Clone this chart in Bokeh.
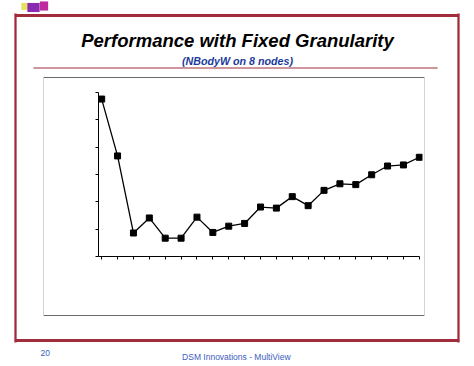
from bokeh.plotting import figure
from bokeh.models import Range1d, Label, FixedTicker
from bokeh.embed import file_html
from bokeh.resources import INLINE

# data (21 granularity steps, relative time)
steps = list(range(21))
perf = [5.76, 3.68, 0.86, 1.41, 0.67, 0.67, 1.44, 0.88, 1.11, 1.21, 1.81,
        1.77, 2.19, 1.86, 2.42, 2.66, 2.63, 2.99, 3.31, 3.35, 3.63]
y_ticks = [0, 1, 2, 3, 4, 5, 6]

title_text = "Performance with Fixed Granularity"
subtitle_text = "(NBodyW on 8 nodes)"
footer_text = "DSM Innovations  - MultiView"
page_text = "20"

p = figure(width=474, height=366, output_backend="svg", toolbar_location=None,
           x_range=Range1d(-0.2, 20.2), y_range=Range1d(0, 6),
           min_border_left=98, min_border_right=52,
           min_border_top=92, min_border_bottom=110)
p.outline_line_color = None
p.background_fill_color = "white"
p.border_fill_color = "white"
p.xgrid.visible = False
p.ygrid.visible = False

for ax in (p.xaxis, p.yaxis):
    ax.axis_line_color = "black"
    ax.axis_line_width = 1
    ax.major_tick_line_color = "black"
    ax.major_tick_out = 3
    ax.major_tick_in = 0
    ax.minor_tick_line_color = None
    ax.major_label_text_font_size = "0px"
    ax.major_label_standoff = 0
p.xaxis.ticker = FixedTicker(ticks=steps)
p.xaxis.bounds = (-0.2, 20)
p.yaxis.ticker = FixedTicker(ticks=y_ticks)

p.line(steps, perf, line_color="black", line_width=1.3)
p.scatter(steps, perf, marker="square", size=6, fill_color="black", line_color="black")


def bar(x0, x1, y0, y1, fill):
    # an empty, tiny label whose padded background forms a filled strip (canvas px)
    px = max(int(round((x1 - x0) / 2)), 0)
    py = max(int(round((y1 - y0) / 2)), 0)
    return Label(x=(x0 + x1) / 2, y=(y0 + y1) / 2,
                 x_units="canvas", y_units="canvas", text=" ",
                 text_font_size="1px", text_align="center", text_baseline="middle",
                 padding=dict(left=px, right=px, top=py, bottom=py),
                 background_fill_color=fill, background_fill_alpha=1,
                 border_line_color=None)


RED = "#a02c3c"
GRAY = "#6a6a6a"

# horizontal strips go into the top/bottom panels, vertical ones into the side panels
for b in (
    bar(14, 459, 14, 16, RED),     # red frame top
    bar(33, 437, 67.5, 67.5, RED), # red rule under the title
    bar(43, 424, 77, 77, GRAY),    # chart box top
):
    p.add_layout(b, "above")
for b in (
    bar(14, 459, 339, 341, RED),   # red frame bottom
    bar(43, 424, 315, 315, GRAY),  # chart box bottom
):
    p.add_layout(b, "below")
for b in (
    bar(14, 16, 14, 341, RED),     # red frame left
    bar(43, 43.5, 77, 315, GRAY),  # chart box left
):
    p.add_layout(b, "left")
for b in (
    bar(457, 459, 14, 341, RED),   # red frame right
    bar(424, 424.5, 77, 315, GRAY),# chart box right
    bar(21, 27, 3, 9, "#e8e060"),  # little logo
    bar(27, 39, 3, 11, "#8a2ab0"),
    bar(39, 48, 2, 9, "#c02aa0"),
):
    p.add_layout(b, "right")


def label(x, y, text, size, color, style="normal", align="center"):
    return Label(x=x, y=y, x_units="canvas", y_units="canvas", text=text,
                 text_align=align, text_baseline="alphabetic",
                 text_font="Liberation Sans", text_font_style=style,
                 text_font_size=size, text_color=color)


p.add_layout(label(237, 40, title_text, "18.5px", "black", "bold italic"), "above")
p.add_layout(label(237, 60, subtitle_text, "10.7px", "#1a3a9c", "bold italic"), "above")
p.add_layout(label(237, 356, footer_text, "8.5px", "#3c5cc0"), "below")
p.add_layout(label(40, 352, page_text, "8.5px", "#3c5cc0", align="left"), "below")

open("out.html", "w").write(file_html(p, INLINE))
